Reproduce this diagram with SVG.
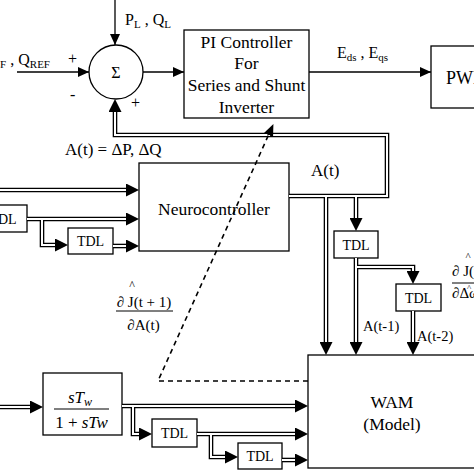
<svg xmlns="http://www.w3.org/2000/svg" xmlns:xlink="http://www.w3.org/1999/xlink" width="474" height="474" viewBox="0 0 474 474">
<style>
text{font-family:"Liberation Serif","Times New Roman",serif;fill:#000}
.box{fill:#fff;stroke:#000;stroke-width:1.3}
.t17{font-size:17.5px}
.t14{font-size:14px}
.c{text-anchor:middle}
.o{fill:none;stroke:#000;stroke-width:4.6}
.i{fill:none;stroke:#fff;stroke-width:2;marker-end:url(#ah)}
.s{fill:none;stroke:#000;stroke-width:1.3;marker-end:url(#as)}
.d{fill:none;stroke:#000;stroke-width:1.6;stroke-dasharray:5 4;marker-end:url(#ad)}
</style>
<defs>
<marker id="ah" markerUnits="userSpaceOnUse" viewBox="0 0 13 13" markerWidth="13" markerHeight="13" refX="6" refY="6.5" orient="auto"><path d="M0,0 L13,6.5 L0,13 z" fill="#000"/></marker>
<marker id="as" markerUnits="userSpaceOnUse" viewBox="0 0 11 10" markerWidth="11" markerHeight="10" refX="11" refY="5" orient="auto"><path d="M0,0 L11,5 L0,10 z" fill="#000"/></marker>
<marker id="ad" markerUnits="userSpaceOnUse" viewBox="0 0 12 10" markerWidth="12" markerHeight="10" refX="11" refY="5" orient="auto"><path d="M0,0 L12,5 L0,10 z" fill="#000"/></marker>
<path id="pA" d="M289,196 H387 V135 H115 V106"/>
<path id="pB" d="M326,196 V348"/>
<path id="pC" d="M356,196 V224"/>
<path id="pD" d="M356,258 V348"/>
<path id="pE" d="M356,267 H413 V277"/>
<path id="pF" d="M413,311 V348"/>
<path id="pG" d="M-5,190 H132"/>
<path id="pH" d="M27,219 H132"/>
<path id="pI" d="M42,219 V245 H61"/>
<path id="pJ" d="M113,246 H132"/>
<path id="pK" d="M-5,407 H36"/>
<path id="pL" d="M122,406 H301"/>
<path id="pM" d="M133,406 V434 H145"/>
<path id="pN" d="M197,434 H301"/>
<path id="pO" d="M211,434 V457 H231"/>
<path id="pP" d="M282,460 H301"/>
</defs>
<rect width="474" height="474" fill="#fff"/>

<g id="sum">
<circle cx="116" cy="72" r="27" fill="#fff" stroke="#000" stroke-width="1.3"/>
<text x="116" y="78" font-size="16" class="c">Σ</text>
</g>
<g id="pi">
<rect class="box" x="184" y="30" width="125" height="88"/>
<text class="t17 c" x="246.5" y="48">PI Controller</text>
<text class="t17 c" x="246.5" y="69">For</text>
<text class="t17 c" x="246.5" y="91">Series and Shunt</text>
<text class="t17 c" x="246.5" y="113">Inverter</text>
</g>
<g id="pwm">
<rect class="box" x="431" y="46" width="80" height="62"/>
<text x="446" y="84" font-size="18">PWM</text>
</g>
<g id="neuro">
<rect class="box" x="139" y="163" width="150" height="88"/>
<text class="t17 c" x="214" y="215">Neurocontroller</text>
</g>
<g id="tdl0">
<rect class="box" x="-22" y="205" width="49" height="27"/>
<text class="t14 c" x="3" y="224">TDL</text>
</g>
<g id="tdl1">
<rect class="box" x="68" y="228" width="45" height="26"/>
<text class="t14 c" x="90.5" y="246">TDL</text>
</g>
<g id="tdl2">
<rect class="box" x="334" y="231" width="44" height="27"/>
<text class="t14 c" x="356" y="250">TDL</text>
</g>
<g id="tdl3">
<rect class="box" x="396" y="284" width="45" height="27"/>
<text class="t14 c" x="418.5" y="303">TDL</text>
</g>
<g id="filter">
<rect class="box" x="43" y="373" width="79" height="62"/>
<text x="80" y="403" font-size="17" class="c" font-style="italic">sT<tspan font-size="12" dy="3">w</tspan></text>
<line x1="54" y1="409" x2="109" y2="409" stroke="#000" stroke-width="1.2"/>
<text x="81.5" y="428" font-size="17" class="c">1 + <tspan font-style="italic">sTw</tspan></text>
</g>
<g id="tdl4">
<rect class="box" x="152" y="419" width="45" height="28"/>
<text class="t14 c" x="174.5" y="438">TDL</text>
</g>
<g id="tdl5">
<rect class="box" x="238" y="443" width="44" height="26"/>
<text class="t14 c" x="260" y="461">TDL</text>
</g>
<g id="wam">
<rect class="box" x="308" y="355" width="200" height="113"/>
<text class="t17 c" x="392" y="408">WAM</text>
<text class="t17 c" x="392" y="430">(Model)</text>
</g>

<g id="connectors">
<path class="s" d="M115,0 V45"/>
<path class="s" d="M17,72 H89"/>
<path class="s" d="M143,72 H184"/>
<path class="s" d="M309,72 H431"/>
<g class="o">
<use xlink:href="#pA"/><use xlink:href="#pB"/><use xlink:href="#pC"/><use xlink:href="#pD"/>
<use xlink:href="#pE"/><use xlink:href="#pF"/><use xlink:href="#pG"/><use xlink:href="#pH"/>
<use xlink:href="#pI"/><use xlink:href="#pJ"/><use xlink:href="#pK"/><use xlink:href="#pL"/>
<use xlink:href="#pM"/><use xlink:href="#pN"/><use xlink:href="#pO"/><use xlink:href="#pP"/>
</g>
<g class="i">
<use xlink:href="#pA"/><use xlink:href="#pB"/><use xlink:href="#pC"/><use xlink:href="#pD"/>
<use xlink:href="#pE"/><use xlink:href="#pF"/><use xlink:href="#pG"/><use xlink:href="#pH"/>
<use xlink:href="#pI"/><use xlink:href="#pJ"/><use xlink:href="#pK"/><use xlink:href="#pL"/>
<use xlink:href="#pM"/><use xlink:href="#pN"/><use xlink:href="#pO"/><use xlink:href="#pP"/>
</g>
<path class="d" d="M308,381 H158 L273,125"/>
</g>

<g id="labels">
<text x="125" y="25" font-size="16">P<tspan font-size="11" dy="3">L</tspan><tspan dy="-3"> , Q</tspan><tspan font-size="11" dy="3">L</tspan></text>
<text x="50" y="65" font-size="16" text-anchor="end">P<tspan font-size="11" dy="3">REF</tspan><tspan dy="-3"> , Q</tspan><tspan font-size="11" dy="3">REF</tspan></text>
<text x="68" y="64" font-size="16">+</text>
<text x="70" y="100" font-size="16">-</text>
<text x="131" y="108" font-size="16">+</text>
<text x="337" y="58" font-size="16">E<tspan font-size="11" dy="3">ds</tspan><tspan dy="-3"> , E</tspan><tspan font-size="11" dy="3">qs</tspan></text>
<text x="65" y="155" font-size="17">A(t) = ΔP, ΔQ</text>
<text x="311" y="176" font-size="17">A(t)</text>
<text x="363" y="331" font-size="14.5">A(t-1)</text>
<text x="417" y="341" font-size="14.5">A(t-2)</text>
<g id="frac1">
<text x="132" y="289" font-size="12" class="c">^</text>
<text x="144" y="307" font-size="15" class="c">∂ J(t + 1)</text>
<line x1="116" y1="311" x2="173" y2="311" stroke="#000" stroke-width="1"/>
<text x="143.5" y="330" font-size="15" class="c">∂A(t)</text>
</g>
<g id="frac2">
<text x="468" y="260" font-size="11" class="c">^</text>
<text x="452" y="276" font-size="15">∂ J(t + 1)</text>
<line x1="452" y1="283" x2="480" y2="283" stroke="#000" stroke-width="1"/>
<text x="469" y="291" font-size="9" class="c">^</text>
<text x="452" y="298" font-size="15">∂Δω(t)</text>
</g>
</g>
</svg>
